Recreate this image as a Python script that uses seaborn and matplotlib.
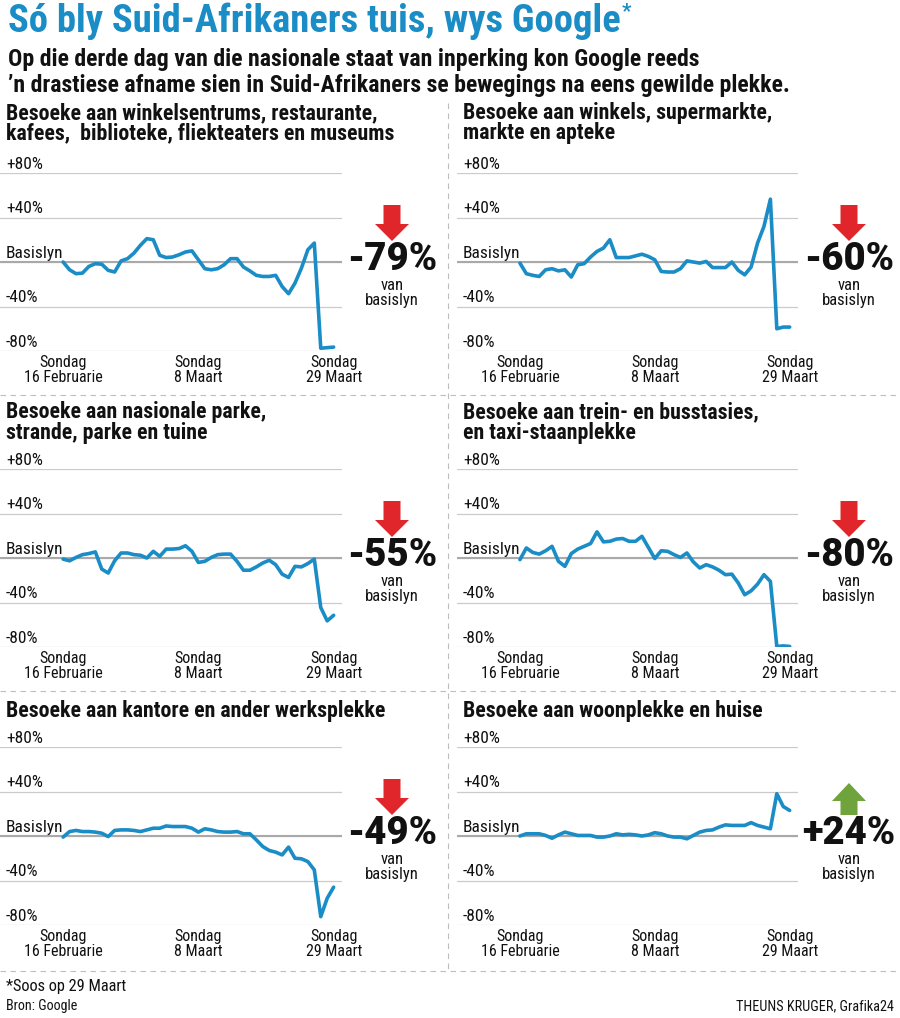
import matplotlib
matplotlib.use("Agg")
import matplotlib.pyplot as plt
from matplotlib import font_manager as fm
from matplotlib.patches import Polygon
import seaborn as sns

# daaglikse verandering teenoor basislyn (%), 16 Februarie - 29 Maart
days = list(range(43))
tick_days = [0, 21, 42]
tick_labels = ["Sondag\n16 Februarie", "Sondag\n8 Maart", "Sondag\n29 Maart"]
y_levels = [80, 40, 0, -40, -80]
y_labels = ["+80%", "+40%", "Basislyn", "-40%", "-80%"]

winkelsentrums = [0, -7, -10.5, -10, -4, -1.5, -2, -7.5, -9, 1, 3, 8, 15, 21, 20,
                  6, 4, 4.5, 6.5, 9, 10, 2, -6, -7, -6, -2.5, 3, 3, -4.5, -8, -12,
                  -13, -13, -12, -22, -28.5, -19, -5.5, 11, 17, -77.5, -77, -76.5]
winkels = [-1, -10.5, -12, -13, -7, -6, -8, -7, -13.5, -2.5, -1.5, 4.5, 9.5, 12.5, 20,
           4, 4, 4, 5.5, 7, 5, 2, -8.5, -9, -9, -6, 1, 0, -1, 0.5, -5,
           -5, -5, 0, -7.5, -11.5, -4.5, 17, 32, 56.5, -60, -58.5, -58.5]
parke = [-1, -2.5, 0.5, 3, 4, 5.5, -10, -13.5, -2.5, 4.5, 4.5, 3, 2.5, 0, 6,
         1.5, 8, 8, 8.5, 11, 6, -4, -3, 0.5, 3, 3.5, 3.5, -3, -11, -11, -8,
         -4.5, -2, -6, -14.5, -17.5, -7.5, -8, -5, -1, -44.5, -56.5, -51.5]
vervoer = [-1.5, 9, 5, 3.5, 6.5, 10.5, -3, -7.5, 4, 8, 10.5, 13, 23.5, 14.5, 15,
           17, 17.5, 15, 15, 19.5, 9.5, -0.5, 6.5, 6, 3, 0.5, 4.5, -3.5, -9, -6, -8,
           -11, -15, -14.5, -22.5, -33, -29.5, -23.5, -15, -21, -79.5, -79, -79.5]
werk = [-1, 4, 5, 4, 4, 3.5, 2.5, -0.5, 5, 5.5, 5.5, 5, 4, 5.5, 7,
        7, 9, 8.5, 8.5, 8.5, 7, 3.5, 6.5, 5.5, 4, 3.5, 3.5, 4, 2, 2, -3.5,
        -9.5, -13, -14.5, -17, -10, -20, -20.5, -23, -30.5, -72.5, -56, -46]
woon = [0, 2, 2, 2, 0.5, -2, 1, 3.5, 2, 0.5, 0.5, 0.5, -1, -1, 0,
        2, 1, 1.5, 1, 0, 1, 3, 2, 0, -1, -1, -2.5, 0.5, 3.5, 5, 5.5,
        8, 10, 9.5, 9.5, 9.5, 12, 9.5, 8, 6.5, 38, 26.5, 23]

series = [winkelsentrums, winkels, parke, vervoer, werk, woon]
changes = [-79, -60, -55, -80, -49, 24]
titles = [
    ["Besoeke aan winkelsentrums, restaurante,", "kafees,  biblioteke, fliekteaters en museums"],
    ["Besoeke aan winkels, supermarkte,", "markte en apteke"],
    ["Besoeke aan nasionale parke,", "strande, parke en tuine"],
    ["Besoeke aan trein- en busstasies,", "en taxi-staanplekke"],
    ["Besoeke aan kantore en ander werksplekke"],
    ["Besoeke aan woonplekke en huise"],
]

BLUE = "#1a8cc6"
GRID = "#cbcbcb"
ZERO = "#a9a9a9"
RED = "#e0262b"
GREEN = "#6fa33b"
SEP = "#bdbdbd"

sns.set_style("white")
names = {f.name for f in fm.fontManager.ttflist}


def pick(cands):
    for c in cands:
        if c in names:
            return c
    return "DejaVu Sans"


def wnum(w):
    return w if isinstance(w, int) else fm.weight_dict.get(str(w).lower(), 400)


# swaarste beskikbare gewig vir die groot getalle
heavy = {}
for f in fm.fontManager.ttflist:
    if f.style == "normal" and f.stretch == "normal":
        heavy[f.name] = max(heavy.get(f.name, 0), wnum(f.weight))
HEAVY, HEAVY_W = "DejaVu Sans", 700
for fam in ["Roboto", "Lato", "Inter", "Open Sans", "Noto Sans"]:
    if heavy.get(fam, 0) >= 800:
        HEAVY, HEAVY_W = fam, heavy[fam]
        break

COND = pick(["Roboto Condensed", "Liberation Sans Narrow", "Open Sans Condensed", "Roboto"])
plt.rcParams["font.family"] = [COND, "DejaVu Sans"]

W, H = 900, 1018
fig = plt.figure(figsize=(9, 10.18), dpi=100)
over = fig.add_axes([0, 0, 1, 1])
over.set_xlim(0, W)
over.set_ylim(H, 0)
over.axis("off")
rend = fig.canvas.get_renderer()


def fit(t, width):
    w = t.get_window_extent(renderer=rend).width
    t.set_fontsize(t.get_fontsize() * width / w)
    return t.get_fontsize()


# koptekste
t = over.text(8, 21, "Só bly Suid-Afrikaners tuis, wys Google", color=BLUE,
              fontsize=26, fontweight="bold", va="center")
fit(t, 612)
x_end = t.get_window_extent(renderer=rend).x1
over.text(x_end + 1, 12, "*", color=BLUE, fontsize=15, fontweight="bold", va="center")

s2 = over.text(8, 85, "’n drastiese afname sien in Suid-Afrikaners se bewegings na eens gewilde plekke.",
               fontsize=15, fontweight="bold", va="center", color="#111111")
sub_size = fit(s2, 780)
over.text(8, 59, "Op die derde dag van die nasionale staat van inperking kon Google reeds",
          fontsize=sub_size, fontweight="bold", va="center", color="#111111")

probe = over.text(0, -50, titles[0][0], fontsize=14, fontweight="bold")
sec_size = fit(probe, 374)
probe.remove()

col_x = [0, 457]
col_w = [342, 341]
row_top = [173, 469, 747]
ROW_H = 178
title_y = [(113, 133), (412, 433), (711,)]
num_cx = [392, 849]

for i, vals in enumerate(series):
    r, c = divmod(i, 2)
    x0, top = col_x[c], row_top[r]
    zy = top + ROW_H / 2

    for line, ty in zip(titles[i], title_y[r]):
        over.text(x0 + 6, ty, line, fontsize=sec_size, fontweight="bold",
                  va="center", color="#111111")

    ax = fig.add_axes([x0 / W, 1 - (top + ROW_H) / H, col_w[c] / W, ROW_H / H])
    ax.patch.set_alpha(0)
    sns.lineplot(x=days, y=vals, ax=ax, color=BLUE, linewidth=2.6)
    ax.set_xlim(-9.8, 43.3)
    ax.set_ylim(-80, 80)
    ax.set_yticks(y_levels)
    ax.set_yticklabels([])
    ax.tick_params(axis="y", length=0)
    ax.grid(axis="y", color=GRID, lw=0.9)
    ax.grid(axis="x", visible=False)
    ax.axhline(0, color=ZERO, lw=1.5, zorder=1)
    for s in ax.spines.values():
        s.set_visible(False)
    ax.set_xticks(tick_days)
    ax.set_xticklabels(tick_labels, fontsize=11.5, linespacing=1.0, color="#111111")
    ax.tick_params(axis="x", direction="in", length=8, width=1, color=GRID, pad=3)
    ax.set_xlabel("")
    ax.set_ylabel("")
    for lvl, lab in zip(y_levels, y_labels):
        ax.text(6 / col_w[c], lvl + 1.0, lab, transform=ax.get_yaxis_transform(),
                fontsize=12.5, va="bottom", ha="left", color="#111111")

    # groot getal + pyl
    v = changes[i]
    cx = num_cx[c]
    nt = over.text(cx, zy - 3, f"{v:+d}%", fontsize=28, fontweight=HEAVY_W,
                   family=[HEAVY, "DejaVu Sans"], ha="center", va="center", color="#111111")
    if i == 0:
        num_size = fit(nt, 90)
    else:
        nt.set_fontsize(num_size)
    over.text(cx, zy + 23, "van", fontsize=12, ha="center", va="center", color="#111111")
    over.text(cx, zy + 39, "basislyn", fontsize=12, ha="center", va="center", color="#111111")
    if v < 0:
        a, b, tip = zy - 57, zy - 38, zy - 21
        col = RED
    else:
        a, b, tip = zy - 21, zy - 35, zy - 53
        col = GREEN
    pts = [(cx - 8.5, a), (cx + 8.5, a), (cx + 8.5, b), (cx + 17, b), (cx, tip),
           (cx - 17, b), (cx - 8.5, b)]
    over.add_patch(Polygon(pts, closed=True, color=col, lw=0))

# skeidslyne
dash = (0, (5, 4))
for y in [395, 691, 971]:
    over.plot([0, W], [y, y], color=SEP, lw=0.8, ls=dash)
over.plot([448, 448], [103, 971], color=SEP, lw=0.8, ls=dash)

# voetnote
f1 = over.text(6, 987, "*Soos op 29 Maart", fontsize=12, va="center", color="#111111")
fit(f1, 121)
f2 = over.text(6, 1006, "Bron: Google", fontsize=10, va="center", color="#111111")
fit(f2, 72)
f3 = over.text(894, 1006, "THEUNS KRUGER, Grafika24", fontsize=10, va="center", ha="right",
               color="#111111")
fit(f3, 158)

fig.savefig("out.png", dpi=100)
